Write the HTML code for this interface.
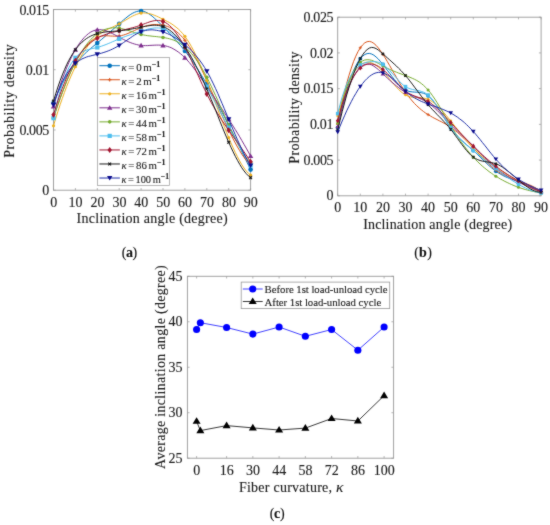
<!DOCTYPE html>
<html lang="en"><head><meta charset="utf-8"><title>Figure</title>
<style>html,body{margin:0;padding:0;background:#fff;overflow:hidden}svg{display:block}text{stroke:#1c1c1c;stroke-width:.12px}</style>
</head><body>
<svg width="550" height="525" viewBox="0 0 550 525" font-family='"Liberation Serif", "DejaVu Serif", serif'>
<defs><filter id="soft" filterUnits="userSpaceOnUse" x="0" y="0" width="550" height="525" color-interpolation-filters="sRGB"><feConvolveMatrix order="3" kernelMatrix="0.4 1 0.4 1 9 1 0.4 1 0.4" divisor="14.6" edgeMode="duplicate" preserveAlpha="false"/></filter></defs><g filter="url(#soft)">
<rect width="550" height="525" fill="#fff"/>
<rect x="53.5" y="9.5" width="197.10" height="180.70" fill="#fff" stroke="#989898" stroke-width="0.9"/><path d="M53.50 190.2v-2.2M53.50 9.5v2.2M75.40 190.2v-2.2M75.40 9.5v2.2M97.30 190.2v-2.2M97.30 9.5v2.2M119.20 190.2v-2.2M119.20 9.5v2.2M141.10 190.2v-2.2M141.10 9.5v2.2M163.00 190.2v-2.2M163.00 9.5v2.2M184.90 190.2v-2.2M184.90 9.5v2.2M206.80 190.2v-2.2M206.80 9.5v2.2M228.70 190.2v-2.2M228.70 9.5v2.2M250.60 190.2v-2.2M250.60 9.5v2.2M53.5 190.20h2.2M250.6 190.20h-2.2M53.5 129.97h2.2M250.6 129.97h-2.2M53.5 69.73h2.2M250.6 69.73h-2.2M53.5 9.50h2.2M250.6 9.50h-2.2" stroke="#989898" stroke-width="0.7" fill="none"/>
<g><polyline points="53.5,103.0 55.7,97.6 57.9,92.7 60.1,88.0 62.3,83.7 64.5,79.7 66.6,76.0 68.8,72.6 71.0,69.4 73.2,66.5 75.4,63.7 77.6,61.1 79.8,58.7 82.0,56.5 84.2,54.4 86.3,52.3 88.5,50.4 90.7,48.5 92.9,46.6 95.1,44.8 97.3,43.0 99.5,41.1 101.7,39.3 103.9,37.4 106.1,35.5 108.2,33.6 110.4,31.7 112.6,29.7 114.8,27.8 117.0,25.8 119.2,23.8 121.4,21.9 123.6,19.9 125.8,18.1 128.0,16.3 130.2,14.7 132.3,13.4 134.5,12.3 136.7,11.5 138.9,11.0 141.1,10.9 143.3,11.3 145.5,12.0 147.7,13.1 149.9,14.5 152.1,16.1 154.2,18.0 156.4,20.0 158.6,22.1 160.8,24.3 163.0,26.6 165.2,28.9 167.4,31.1 169.6,33.4 171.8,35.7 173.9,38.1 176.1,40.5 178.3,43.0 180.5,45.5 182.7,48.2 184.9,50.9 187.1,53.8 189.3,56.8 191.5,59.9 193.7,63.1 195.8,66.4 198.0,69.7 200.2,73.2 202.4,76.8 204.6,80.5 206.8,84.2 209.0,88.0 211.2,91.9 213.4,95.9 215.6,99.9 217.8,104.0 219.9,108.1 222.1,112.3 224.3,116.5 226.5,120.8 228.7,125.1 230.9,129.5 233.1,133.9 235.3,138.3 237.5,142.8 239.7,147.2 241.8,151.7 244.0,156.2 246.2,160.6 248.4,165.1 250.6,169.6" fill="none" stroke="#0072BD" stroke-width="1" stroke-linejoin="round"/><circle cx="53.50" cy="102.98" r="2.30" fill="#0072BD"/><circle cx="75.40" cy="63.71" r="2.30" fill="#0072BD"/><circle cx="97.30" cy="42.99" r="2.30" fill="#0072BD"/><circle cx="119.20" cy="23.84" r="2.30" fill="#0072BD"/><circle cx="141.10" cy="10.95" r="2.30" fill="#0072BD"/><circle cx="163.00" cy="26.61" r="2.30" fill="#0072BD"/><circle cx="184.90" cy="50.94" r="2.30" fill="#0072BD"/><circle cx="206.80" cy="84.19" r="2.30" fill="#0072BD"/><circle cx="228.70" cy="125.15" r="2.30" fill="#0072BD"/><circle cx="250.60" cy="169.60" r="2.30" fill="#0072BD"/><polyline points="53.5,117.9 55.7,111.1 57.9,104.6 60.1,98.4 62.3,92.4 64.5,86.7 66.6,81.3 68.8,76.1 71.0,71.3 73.2,66.8 75.4,62.5 77.6,58.6 79.8,54.9 82.0,51.6 84.2,48.5 86.3,45.8 88.5,43.5 90.7,41.4 92.9,39.7 95.1,38.3 97.3,37.2 99.5,36.5 101.7,36.0 103.9,35.8 106.1,35.8 108.2,35.8 110.4,36.0 112.6,36.1 114.8,36.2 117.0,36.2 119.2,36.0 121.4,35.6 123.6,35.0 125.8,34.3 128.0,33.4 130.2,32.5 132.3,31.5 134.5,30.5 136.7,29.5 138.9,28.5 141.1,27.6 143.3,26.8 145.5,26.1 147.7,25.5 149.9,25.1 152.1,24.7 154.2,24.5 156.4,24.5 158.6,24.6 160.8,24.8 163.0,25.2 165.2,25.7 167.4,26.4 169.6,27.3 171.8,28.4 173.9,29.7 176.1,31.3 178.3,33.1 180.5,35.2 182.7,37.6 184.9,40.2 187.1,43.2 189.3,46.5 191.5,50.0 193.7,53.8 195.8,57.8 198.0,62.1 200.2,66.5 202.4,71.0 204.6,75.8 206.8,80.6 209.0,85.5 211.2,90.5 213.4,95.5 215.6,100.6 217.8,105.6 219.9,110.6 222.1,115.6 224.3,120.5 226.5,125.3 228.7,130.0 230.9,134.5 233.1,138.9 235.3,143.0 237.5,147.0 239.7,150.7 241.8,154.2 244.0,157.3 246.2,160.2 248.4,162.7 250.6,164.9" fill="none" stroke="#D95319" stroke-width="1" stroke-linejoin="round"/><path d="M51.70 117.92H55.30M53.50 116.12V119.72" stroke="#D95319" stroke-width="1" fill="none"/><path d="M73.60 62.51H77.20M75.40 60.71V64.31" stroke="#D95319" stroke-width="1" fill="none"/><path d="M95.50 37.21H99.10M97.30 35.41V39.01" stroke="#D95319" stroke-width="1" fill="none"/><path d="M117.40 36.00H121.00M119.20 34.20V37.80" stroke="#D95319" stroke-width="1" fill="none"/><path d="M139.30 27.57H142.90M141.10 25.77V29.37" stroke="#D95319" stroke-width="1" fill="none"/><path d="M161.20 25.16H164.80M163.00 23.36V26.96" stroke="#D95319" stroke-width="1" fill="none"/><path d="M183.10 40.22H186.70M184.90 38.42V42.02" stroke="#D95319" stroke-width="1" fill="none"/><path d="M205.00 80.58H208.60M206.80 78.78V82.38" stroke="#D95319" stroke-width="1" fill="none"/><path d="M226.90 129.97H230.50M228.70 128.17V131.77" stroke="#D95319" stroke-width="1" fill="none"/><path d="M248.80 164.90H252.40M250.60 163.10V166.70" stroke="#D95319" stroke-width="1" fill="none"/><polyline points="53.5,125.9 55.7,118.5 57.9,111.5 60.1,104.8 62.3,98.5 64.5,92.4 66.6,86.7 68.8,81.3 71.0,76.1 73.2,71.3 75.4,66.7 77.6,62.5 79.8,58.5 82.0,54.8 84.2,51.3 86.3,48.1 88.5,45.2 90.7,42.5 92.9,40.1 95.1,37.9 97.3,36.0 99.5,34.3 101.7,32.8 103.9,31.4 106.1,30.2 108.2,29.1 110.4,28.1 112.6,27.1 114.8,26.0 117.0,25.0 119.2,23.8 121.4,22.6 123.6,21.3 125.8,20.0 128.0,18.7 130.2,17.4 132.3,16.2 134.5,15.2 136.7,14.3 138.9,13.6 141.1,13.1 143.3,12.9 145.5,13.0 147.7,13.3 149.9,13.8 152.1,14.4 154.2,15.2 156.4,16.1 158.6,17.1 160.8,18.2 163.0,19.3 165.2,20.4 167.4,21.5 169.6,22.7 171.8,24.0 173.9,25.5 176.1,27.2 178.3,29.0 180.5,31.2 182.7,33.6 184.9,36.4 187.1,39.5 189.3,42.9 191.5,46.7 193.7,50.8 195.8,55.2 198.0,59.8 200.2,64.7 202.4,69.7 204.6,75.0 206.8,80.5 209.0,86.1 211.2,91.8 213.4,97.6 215.6,103.4 217.8,109.3 219.9,115.1 222.1,120.9 224.3,126.6 226.5,132.2 228.7,137.6 230.9,142.8 233.1,147.7 235.3,152.5 237.5,156.9 239.7,161.0 241.8,164.7 244.0,168.0 246.2,170.9 248.4,173.3 250.6,175.1" fill="none" stroke="#EDB120" stroke-width="1" stroke-linejoin="round"/><circle cx="53.50" cy="125.87" r="1.60" fill="#EDB120"/><circle cx="75.40" cy="66.72" r="1.60" fill="#EDB120"/><circle cx="97.30" cy="36.00" r="1.60" fill="#EDB120"/><circle cx="119.20" cy="23.84" r="1.60" fill="#EDB120"/><circle cx="141.10" cy="13.11" r="1.60" fill="#EDB120"/><circle cx="163.00" cy="19.26" r="1.60" fill="#EDB120"/><circle cx="184.90" cy="36.36" r="1.60" fill="#EDB120"/><circle cx="206.80" cy="80.45" r="1.60" fill="#EDB120"/><circle cx="228.70" cy="137.56" r="1.60" fill="#EDB120"/><circle cx="250.60" cy="175.14" r="1.60" fill="#EDB120"/><polyline points="53.5,106.5 55.7,99.0 57.9,92.0 60.1,85.4 62.3,79.1 64.5,73.3 66.6,67.8 68.8,62.7 71.0,58.0 73.2,53.7 75.4,49.7 77.6,46.1 79.8,42.9 82.0,40.1 84.2,37.5 86.3,35.4 88.5,33.6 90.7,32.1 92.9,31.0 95.1,30.2 97.3,29.7 99.5,29.6 101.7,29.8 103.9,30.2 106.1,30.8 108.2,31.6 110.4,32.6 112.6,33.7 114.8,34.8 117.0,36.0 119.2,37.2 121.4,38.4 123.6,39.5 125.8,40.6 128.0,41.6 130.2,42.5 132.3,43.3 134.5,44.0 136.7,44.6 138.9,45.1 141.1,45.4 143.3,45.6 145.5,45.6 147.7,45.6 149.9,45.4 152.1,45.3 154.2,45.2 156.4,45.1 158.6,45.1 160.8,45.2 163.0,45.4 165.2,45.8 167.4,46.4 169.6,47.1 171.8,48.0 173.9,49.2 176.1,50.5 178.3,52.0 180.5,53.7 182.7,55.6 184.9,57.7 187.1,60.0 189.3,62.5 191.5,65.2 193.7,68.0 195.8,70.9 198.0,73.9 200.2,77.0 202.4,80.2 204.6,83.4 206.8,86.6 209.0,89.8 211.2,93.0 213.4,96.2 215.6,99.5 217.8,102.7 219.9,106.0 222.1,109.2 224.3,112.5 226.5,115.9 228.7,119.2 230.9,122.7 233.1,126.1 235.3,129.6 237.5,133.2 239.7,136.8 241.8,140.5 244.0,144.3 246.2,148.1 248.4,152.0 250.6,156.0" fill="none" stroke="#7E2F8E" stroke-width="1" stroke-linejoin="round"/><path d="M53.50 103.88 L56.20 108.48 L50.80 108.48Z" fill="#7E2F8E"/><path d="M75.40 47.14 L78.10 51.74 L72.70 51.74Z" fill="#7E2F8E"/><path d="M97.30 27.14 L100.00 31.74 L94.60 31.74Z" fill="#7E2F8E"/><path d="M119.20 34.61 L121.90 39.21 L116.50 39.21Z" fill="#7E2F8E"/><path d="M141.10 42.80 L143.80 47.40 L138.40 47.40Z" fill="#7E2F8E"/><path d="M163.00 42.80 L165.70 47.40 L160.30 47.40Z" fill="#7E2F8E"/><path d="M184.90 55.09 L187.60 59.69 L182.20 59.69Z" fill="#7E2F8E"/><path d="M206.80 84.00 L209.50 88.60 L204.10 88.60Z" fill="#7E2F8E"/><path d="M228.70 116.65 L231.40 121.25 L226.00 121.25Z" fill="#7E2F8E"/><path d="M250.60 153.39 L253.30 157.99 L247.90 157.99Z" fill="#7E2F8E"/><polyline points="53.5,118.2 55.7,111.3 57.9,104.8 60.1,98.6 62.3,92.6 64.5,86.9 66.6,81.5 68.8,76.3 71.0,71.4 73.2,66.8 75.4,62.5 77.6,58.4 79.8,54.6 82.0,51.1 84.2,47.8 86.3,44.8 88.5,42.1 90.7,39.6 92.9,37.3 95.1,35.3 97.3,33.6 99.5,32.1 101.7,30.9 103.9,29.8 106.1,29.1 108.2,28.5 110.4,28.1 112.6,27.8 114.8,27.8 117.0,27.9 119.2,28.2 121.4,28.6 123.6,29.1 125.8,29.7 128.0,30.3 130.2,31.1 132.3,31.8 134.5,32.5 136.7,33.2 138.9,33.9 141.1,34.4 143.3,34.9 145.5,35.3 147.7,35.7 149.9,35.9 152.1,36.2 154.2,36.4 156.4,36.6 158.6,36.9 160.8,37.1 163.0,37.4 165.2,37.8 167.4,38.3 169.6,38.8 171.8,39.5 173.9,40.2 176.1,41.2 178.3,42.3 180.5,43.6 182.7,45.1 184.9,46.8 187.1,48.8 189.3,51.0 191.5,53.5 193.7,56.2 195.8,59.2 198.0,62.3 200.2,65.7 202.4,69.4 204.6,73.2 206.8,77.3 209.0,81.6 211.2,86.1 213.4,90.8 215.6,95.6 217.8,100.4 219.9,105.4 222.1,110.3 224.3,115.3 226.5,120.2 228.7,125.0 230.9,129.8 233.1,134.4 235.3,138.8 237.5,143.1 239.7,147.1 241.8,150.8 244.0,154.3 246.2,157.4 248.4,160.1 250.6,162.5" fill="none" stroke="#77AC30" stroke-width="1" stroke-linejoin="round"/><circle cx="53.50" cy="118.16" r="1.80" fill="#77AC30"/><circle cx="75.40" cy="62.51" r="1.80" fill="#77AC30"/><circle cx="97.30" cy="33.59" r="1.80" fill="#77AC30"/><circle cx="119.20" cy="28.17" r="1.80" fill="#77AC30"/><circle cx="141.10" cy="34.44" r="1.80" fill="#77AC30"/><circle cx="163.00" cy="37.45" r="1.80" fill="#77AC30"/><circle cx="184.90" cy="46.84" r="1.80" fill="#77AC30"/><circle cx="206.80" cy="77.32" r="1.80" fill="#77AC30"/><circle cx="228.70" cy="125.03" r="1.80" fill="#77AC30"/><circle cx="250.60" cy="162.49" r="1.80" fill="#77AC30"/><polyline points="53.5,118.2 55.7,108.1 57.9,99.2 60.1,91.2 62.3,84.1 64.5,77.9 66.6,72.5 68.8,67.9 71.0,63.9 73.2,60.6 75.4,57.8 77.6,55.5 79.8,53.7 82.0,52.2 84.2,51.1 86.3,50.2 88.5,49.5 90.7,48.9 92.9,48.4 95.1,48.0 97.3,47.4 99.5,46.8 101.7,46.1 103.9,45.3 106.1,44.5 108.2,43.6 110.4,42.7 112.6,41.7 114.8,40.8 117.0,39.8 119.2,38.9 121.4,38.0 123.6,37.2 125.8,36.3 128.0,35.5 130.2,34.8 132.3,34.0 134.5,33.3 136.7,32.6 138.9,31.9 141.1,31.2 143.3,30.5 145.5,29.8 147.7,29.2 149.9,28.7 152.1,28.3 154.2,28.0 156.4,27.9 158.6,28.0 160.8,28.2 163.0,28.8 165.2,29.6 167.4,30.6 169.6,31.9 171.8,33.5 173.9,35.3 176.1,37.4 178.3,39.7 180.5,42.3 182.7,45.0 184.9,48.0 187.1,51.3 189.3,54.7 191.5,58.3 193.7,62.1 195.8,66.0 198.0,70.0 200.2,74.1 202.4,78.2 204.6,82.4 206.8,86.6 209.0,90.8 211.2,94.9 213.4,99.1 215.6,103.2 217.8,107.3 219.9,111.4 222.1,115.5 224.3,119.6 226.5,123.6 228.7,127.6 230.9,131.5 233.1,135.4 235.3,139.3 237.5,143.2 239.7,147.0 241.8,150.8 244.0,154.5 246.2,158.2 248.4,161.9 250.6,165.5" fill="none" stroke="#4DBEEE" stroke-width="1" stroke-linejoin="round"/><rect x="51.40" y="116.06" width="4.20" height="4.20" fill="#4DBEEE"/><rect x="73.30" y="55.71" width="4.20" height="4.20" fill="#4DBEEE"/><rect x="95.20" y="45.35" width="4.20" height="4.20" fill="#4DBEEE"/><rect x="117.10" y="36.79" width="4.20" height="4.20" fill="#4DBEEE"/><rect x="139.00" y="29.08" width="4.20" height="4.20" fill="#4DBEEE"/><rect x="160.90" y="26.67" width="4.20" height="4.20" fill="#4DBEEE"/><rect x="182.80" y="45.95" width="4.20" height="4.20" fill="#4DBEEE"/><rect x="204.70" y="84.50" width="4.20" height="4.20" fill="#4DBEEE"/><rect x="226.60" y="125.46" width="4.20" height="4.20" fill="#4DBEEE"/><rect x="248.50" y="163.40" width="4.20" height="4.20" fill="#4DBEEE"/><polyline points="53.5,114.8 55.7,107.5 57.9,100.6 60.1,94.2 62.3,88.3 64.5,82.8 66.6,77.6 68.8,72.8 71.0,68.5 73.2,64.4 75.4,60.7 77.6,57.3 79.8,54.2 82.0,51.4 84.2,48.8 86.3,46.5 88.5,44.5 90.7,42.6 92.9,41.0 95.1,39.5 97.3,38.2 99.5,37.0 101.7,36.0 103.9,35.1 106.1,34.3 108.2,33.6 110.4,32.9 112.6,32.3 114.8,31.8 117.0,31.3 119.2,30.8 121.4,30.3 123.6,29.9 125.8,29.4 128.0,28.9 130.2,28.3 132.3,27.8 134.5,27.2 136.7,26.5 138.9,25.8 141.1,25.0 143.3,24.2 145.5,23.4 147.7,22.6 149.9,21.8 152.1,21.2 154.2,20.7 156.4,20.5 158.6,20.5 160.8,20.8 163.0,21.4 165.2,22.4 167.4,23.8 169.6,25.6 171.8,27.7 173.9,30.2 176.1,33.0 178.3,36.1 180.5,39.5 182.7,43.2 184.9,47.2 187.1,51.5 189.3,55.9 191.5,60.6 193.7,65.4 195.8,70.2 198.0,75.1 200.2,80.0 202.4,84.8 204.6,89.4 206.8,93.9 209.0,98.3 211.2,102.4 213.4,106.3 215.6,110.1 217.8,113.7 219.9,117.2 222.1,120.6 224.3,123.9 226.5,127.1 228.7,130.2 230.9,133.3 233.1,136.4 235.3,139.4 237.5,142.5 239.7,145.5 241.8,148.6 244.0,151.8 246.2,155.0 248.4,158.4 250.6,161.8" fill="none" stroke="#A2142F" stroke-width="1" stroke-linejoin="round"/><path d="M53.50 111.79 L55.70 114.79 L53.50 117.79 L51.30 114.79Z" fill="#A2142F"/><path d="M75.40 57.70 L77.60 60.70 L75.40 63.70 L73.20 60.70Z" fill="#A2142F"/><path d="M97.30 35.17 L99.50 38.17 L97.30 41.17 L95.10 38.17Z" fill="#A2142F"/><path d="M119.20 27.82 L121.40 30.82 L119.20 33.82 L117.00 30.82Z" fill="#A2142F"/><path d="M141.10 22.04 L143.30 25.04 L141.10 28.04 L138.90 25.04Z" fill="#A2142F"/><path d="M163.00 18.43 L165.20 21.43 L163.00 24.43 L160.80 21.43Z" fill="#A2142F"/><path d="M184.90 44.21 L187.10 47.21 L184.90 50.21 L182.70 47.21Z" fill="#A2142F"/><path d="M206.80 90.95 L209.00 93.95 L206.80 96.95 L204.60 93.95Z" fill="#A2142F"/><path d="M228.70 127.21 L230.90 130.21 L228.70 133.21 L226.50 130.21Z" fill="#A2142F"/><path d="M250.60 158.77 L252.80 161.77 L250.60 164.77 L248.40 161.77Z" fill="#A2142F"/><polyline points="53.5,101.2 55.7,93.8 57.9,87.0 60.1,80.7 62.3,74.9 64.5,69.6 66.6,64.8 68.8,60.4 71.0,56.5 73.2,52.9 75.4,49.7 77.6,46.9 79.8,44.4 82.0,42.2 84.2,40.3 86.3,38.7 88.5,37.3 90.7,36.1 92.9,35.1 95.1,34.3 97.3,33.6 99.5,33.0 101.7,32.6 103.9,32.2 106.1,31.9 108.2,31.7 110.4,31.5 112.6,31.3 114.8,31.2 117.0,31.0 119.2,30.8 121.4,30.6 123.6,30.3 125.8,30.0 128.0,29.7 130.2,29.3 132.3,28.9 134.5,28.5 136.7,28.1 138.9,27.7 141.1,27.2 143.3,26.7 145.5,26.3 147.7,25.9 149.9,25.6 152.1,25.3 154.2,25.2 156.4,25.3 158.6,25.5 160.8,25.9 163.0,26.6 165.2,27.5 167.4,28.7 169.6,30.1 171.8,31.8 173.9,33.7 176.1,35.9 178.3,38.3 180.5,40.9 182.7,43.8 184.9,46.8 187.1,50.2 189.3,53.7 191.5,57.4 193.7,61.4 195.8,65.6 198.0,69.9 200.2,74.4 202.4,79.1 204.6,84.0 206.8,89.0 209.0,94.2 211.2,99.5 213.4,104.9 215.6,110.3 217.8,115.8 219.9,121.2 222.1,126.6 224.3,132.0 226.5,137.2 228.7,142.3 230.9,147.1 233.1,151.8 235.3,156.3 237.5,160.4 239.7,164.3 241.8,167.8 244.0,170.9 246.2,173.6 248.4,175.9 250.6,177.7" fill="none" stroke="#1a1a1a" stroke-width="1" stroke-linejoin="round"/><path d="M52.10 99.78L54.90 102.58M52.10 102.58L54.90 99.78" stroke="#1a1a1a" stroke-width="1.2" fill="none"/><path d="M74.00 48.34L76.80 51.14M74.00 51.14L76.80 48.34" stroke="#1a1a1a" stroke-width="1.2" fill="none"/><path d="M95.90 32.19L98.70 34.99M95.90 34.99L98.70 32.19" stroke="#1a1a1a" stroke-width="1.2" fill="none"/><path d="M117.80 29.42L120.60 32.22M117.80 32.22L120.60 29.42" stroke="#1a1a1a" stroke-width="1.2" fill="none"/><path d="M139.70 25.81L142.50 28.61M139.70 28.61L142.50 25.81" stroke="#1a1a1a" stroke-width="1.2" fill="none"/><path d="M161.60 25.21L164.40 28.01M161.60 28.01L164.40 25.21" stroke="#1a1a1a" stroke-width="1.2" fill="none"/><path d="M183.50 45.44L186.30 48.24M183.50 48.24L186.30 45.44" stroke="#1a1a1a" stroke-width="1.2" fill="none"/><path d="M205.40 87.61L208.20 90.41M205.40 90.41L208.20 87.61" stroke="#1a1a1a" stroke-width="1.2" fill="none"/><path d="M227.30 140.85L230.10 143.65M227.30 143.65L230.10 140.85" stroke="#1a1a1a" stroke-width="1.2" fill="none"/><path d="M249.20 176.27L252.00 179.07M249.20 179.07L252.00 176.27" stroke="#1a1a1a" stroke-width="1.2" fill="none"/><polyline points="53.5,104.8 55.7,98.1 57.9,92.1 60.1,86.7 62.3,81.9 64.5,77.7 66.6,73.9 68.8,70.7 71.0,67.8 73.2,65.4 75.4,63.3 77.6,61.6 79.8,60.2 82.0,58.9 84.2,58.0 86.3,57.1 88.5,56.4 90.7,55.9 92.9,55.3 95.1,54.8 97.3,54.3 99.5,53.7 101.7,53.1 103.9,52.4 106.1,51.7 108.2,50.9 110.4,50.0 112.6,49.0 114.8,47.9 117.0,46.7 119.2,45.4 121.4,44.0 123.6,42.5 125.8,41.0 128.0,39.5 130.2,38.0 132.3,36.5 134.5,35.1 136.7,33.9 138.9,32.7 141.1,31.8 143.3,31.0 145.5,30.5 147.7,30.1 149.9,29.9 152.1,29.8 154.2,30.0 156.4,30.3 158.6,30.7 160.8,31.2 163.0,31.9 165.2,32.7 167.4,33.6 169.6,34.6 171.8,35.8 173.9,37.0 176.1,38.4 178.3,39.8 180.5,41.4 182.7,43.0 184.9,44.8 187.1,46.7 189.3,48.6 191.5,50.7 193.7,53.0 195.8,55.5 198.0,58.1 200.2,61.0 202.4,64.1 204.6,67.5 206.8,71.2 209.0,75.1 211.2,79.4 213.4,83.9 215.6,88.6 217.8,93.4 219.9,98.4 222.1,103.5 224.3,108.7 226.5,114.0 228.7,119.2 230.9,124.5 233.1,129.7 235.3,134.8 237.5,139.8 239.7,144.6 241.8,149.3 244.0,153.7 246.2,158.0 248.4,161.9 250.6,165.5" fill="none" stroke="#1f2fa8" stroke-width="1" stroke-linejoin="round"/><path d="M53.50 107.39 L56.20 102.79 L50.80 102.79Z" fill="#0b0b8c"/><path d="M75.40 65.95 L78.10 61.35 L72.70 61.35Z" fill="#0b0b8c"/><path d="M97.30 56.91 L100.00 52.31 L94.60 52.31Z" fill="#0b0b8c"/><path d="M119.20 48.00 L121.90 43.40 L116.50 43.40Z" fill="#0b0b8c"/><path d="M141.10 34.39 L143.80 29.79 L138.40 29.79Z" fill="#0b0b8c"/><path d="M163.00 34.51 L165.70 29.91 L160.30 29.91Z" fill="#0b0b8c"/><path d="M184.90 47.40 L187.60 42.80 L182.20 42.80Z" fill="#0b0b8c"/><path d="M206.80 73.78 L209.50 69.18 L204.10 69.18Z" fill="#0b0b8c"/><path d="M228.70 121.85 L231.40 117.25 L226.00 117.25Z" fill="#0b0b8c"/><path d="M250.60 168.10 L253.30 163.50 L247.90 163.50Z" fill="#0b0b8c"/></g>
<text x="53.70" y="207.20" font-size="14.0" text-anchor="middle" fill="#1c1c1c" >0</text>
<text x="75.60" y="207.20" font-size="14.0" text-anchor="middle" fill="#1c1c1c" >10</text>
<text x="97.50" y="207.20" font-size="14.0" text-anchor="middle" fill="#1c1c1c" >20</text>
<text x="119.40" y="207.20" font-size="14.0" text-anchor="middle" fill="#1c1c1c" >30</text>
<text x="141.30" y="207.20" font-size="14.0" text-anchor="middle" fill="#1c1c1c" >40</text>
<text x="163.20" y="207.20" font-size="14.0" text-anchor="middle" fill="#1c1c1c" >50</text>
<text x="185.10" y="207.20" font-size="14.0" text-anchor="middle" fill="#1c1c1c" >60</text>
<text x="207.00" y="207.20" font-size="14.0" text-anchor="middle" fill="#1c1c1c" >70</text>
<text x="228.90" y="207.20" font-size="14.0" text-anchor="middle" fill="#1c1c1c" >80</text>
<text x="250.80" y="207.20" font-size="14.0" text-anchor="middle" fill="#1c1c1c" >90</text>
<text x="49.30" y="195.20" font-size="14.0" text-anchor="end" fill="#1c1c1c" >0</text>
<text x="49.30" y="134.97" font-size="14.0" text-anchor="end" fill="#1c1c1c"  textLength="29.9" lengthAdjust="spacing">0.005</text>
<text x="49.30" y="74.73" font-size="14.0" text-anchor="end" fill="#1c1c1c"  textLength="23.6" lengthAdjust="spacing">0.01</text>
<text x="49.30" y="14.50" font-size="14.0" text-anchor="end" fill="#1c1c1c"  textLength="29.9" lengthAdjust="spacing">0.015</text>
<text x="152.10" y="223.30" font-size="14.0" text-anchor="middle" fill="#1c1c1c"  textLength="151" lengthAdjust="spacing">Inclination angle (degree)</text>
<text x="0.00" y="0.00" font-size="14.0" text-anchor="middle" fill="#1c1c1c" transform="translate(13.9 101) rotate(-90)" textLength="113.4" lengthAdjust="spacing">Probability density</text>
<rect x="97.4" y="57.4" width="72.1" height="128.2" fill="#fff" stroke="#989898" stroke-width="0.7"/>
<path d="M99.4 65.70H119.9" stroke="#0072BD" stroke-width="1"/>
<circle cx="109.70" cy="65.70" r="2.30" fill="#0072BD"/>
<text x="121.4" y="70.60" font-size="10.8" word-spacing="-1" textLength="39.0" lengthAdjust="spacingAndGlyphs" fill="#1c1c1c"><tspan font-style="italic">κ</tspan> = 0 m<tspan dy="-4" font-size="8" font-weight="bold">−1</tspan></text>
<path d="M99.4 79.74H119.9" stroke="#D95319" stroke-width="1"/>
<path d="M107.90 79.74H111.50M109.70 77.94V81.54" stroke="#D95319" stroke-width="1" fill="none"/>
<text x="121.4" y="84.64" font-size="10.8" word-spacing="-1" textLength="39.0" lengthAdjust="spacingAndGlyphs" fill="#1c1c1c"><tspan font-style="italic">κ</tspan> = 2 m<tspan dy="-4" font-size="8" font-weight="bold">−1</tspan></text>
<path d="M99.4 93.78H119.9" stroke="#EDB120" stroke-width="1"/>
<circle cx="109.70" cy="93.78" r="1.60" fill="#EDB120"/>
<text x="121.4" y="98.68" font-size="10.8" word-spacing="-1" textLength="44.2" lengthAdjust="spacingAndGlyphs" fill="#1c1c1c"><tspan font-style="italic">κ</tspan> = 16 m<tspan dy="-4" font-size="8" font-weight="bold">−1</tspan></text>
<path d="M99.4 107.82H119.9" stroke="#7E2F8E" stroke-width="1"/>
<path d="M109.70 105.22 L112.40 109.82 L107.00 109.82Z" fill="#7E2F8E"/>
<text x="121.4" y="112.72" font-size="10.8" word-spacing="-1" textLength="44.2" lengthAdjust="spacingAndGlyphs" fill="#1c1c1c"><tspan font-style="italic">κ</tspan> = 30 m<tspan dy="-4" font-size="8" font-weight="bold">−1</tspan></text>
<path d="M99.4 121.86H119.9" stroke="#77AC30" stroke-width="1"/>
<circle cx="109.70" cy="121.86" r="1.80" fill="#77AC30"/>
<text x="121.4" y="126.76" font-size="10.8" word-spacing="-1" textLength="44.2" lengthAdjust="spacingAndGlyphs" fill="#1c1c1c"><tspan font-style="italic">κ</tspan> = 44 m<tspan dy="-4" font-size="8" font-weight="bold">−1</tspan></text>
<path d="M99.4 135.90H119.9" stroke="#4DBEEE" stroke-width="1"/>
<rect x="107.60" y="133.80" width="4.20" height="4.20" fill="#4DBEEE"/>
<text x="121.4" y="140.80" font-size="10.8" word-spacing="-1" textLength="44.2" lengthAdjust="spacingAndGlyphs" fill="#1c1c1c"><tspan font-style="italic">κ</tspan> = 58 m<tspan dy="-4" font-size="8" font-weight="bold">−1</tspan></text>
<path d="M99.4 149.94H119.9" stroke="#A2142F" stroke-width="1"/>
<path d="M109.70 146.94 L111.90 149.94 L109.70 152.94 L107.50 149.94Z" fill="#A2142F"/>
<text x="121.4" y="154.84" font-size="10.8" word-spacing="-1" textLength="44.2" lengthAdjust="spacingAndGlyphs" fill="#1c1c1c"><tspan font-style="italic">κ</tspan> = 72 m<tspan dy="-4" font-size="8" font-weight="bold">−1</tspan></text>
<path d="M99.4 163.98H119.9" stroke="#1a1a1a" stroke-width="1"/>
<path d="M108.30 162.58L111.10 165.38M108.30 165.38L111.10 162.58" stroke="#1a1a1a" stroke-width="1.2" fill="none"/>
<text x="121.4" y="168.88" font-size="10.8" word-spacing="-1" textLength="44.2" lengthAdjust="spacingAndGlyphs" fill="#1c1c1c"><tspan font-style="italic">κ</tspan> = 86 m<tspan dy="-4" font-size="8" font-weight="bold">−1</tspan></text>
<path d="M99.4 178.02H119.9" stroke="#1f2fa8" stroke-width="1"/>
<path d="M109.70 180.62 L112.40 176.02 L107.00 176.02Z" fill="#0b0b8c"/>
<text x="121.4" y="182.92" font-size="10.8" word-spacing="-1" textLength="47.6" lengthAdjust="spacingAndGlyphs" fill="#1c1c1c"><tspan font-style="italic">κ</tspan> = 100 m<tspan dy="-4" font-size="8" font-weight="bold">−1</tspan></text>
<text x="129.50" y="256.80" font-size="14" text-anchor="middle" fill="#111"  textLength="15.5" lengthAdjust="spacing">(<tspan font-weight="bold">a</tspan>)</text>
<rect x="337.7" y="17.2" width="203.40" height="178.60" fill="#fff" stroke="#989898" stroke-width="0.9"/><path d="M337.70 195.8v-2.2M337.70 17.2v2.2M360.30 195.8v-2.2M360.30 17.2v2.2M382.90 195.8v-2.2M382.90 17.2v2.2M405.50 195.8v-2.2M405.50 17.2v2.2M428.10 195.8v-2.2M428.10 17.2v2.2M450.70 195.8v-2.2M450.70 17.2v2.2M473.30 195.8v-2.2M473.30 17.2v2.2M495.90 195.8v-2.2M495.90 17.2v2.2M518.50 195.8v-2.2M518.50 17.2v2.2M541.10 195.8v-2.2M541.10 17.2v2.2M337.7 195.80h2.2M541.1 195.80h-2.2M337.7 160.08h2.2M541.1 160.08h-2.2M337.7 124.36h2.2M541.1 124.36h-2.2M337.7 88.64h2.2M541.1 88.64h-2.2M337.7 52.92h2.2M541.1 52.92h-2.2M337.7 17.20h2.2M541.1 17.20h-2.2" stroke="#989898" stroke-width="0.7" fill="none"/>
<g><polyline points="337.7,127.6 340.0,117.0 342.2,107.2 344.5,98.3 346.7,90.2 349.0,82.9 351.3,76.4 353.5,70.8 355.8,65.9 358.0,61.9 360.3,58.6 362.6,56.2 364.8,54.5 367.1,53.6 369.3,53.4 371.6,54.0 373.9,55.2 376.1,57.0 378.4,59.1 380.6,61.7 382.9,64.4 385.2,67.3 387.4,70.4 389.7,73.4 391.9,76.4 394.2,79.3 396.5,82.1 398.7,84.6 401.0,86.8 403.2,88.6 405.5,90.1 407.8,91.0 410.0,91.6 412.3,91.9 414.5,92.1 416.8,92.2 419.1,92.4 421.3,92.7 423.6,93.3 425.8,94.2 428.1,95.7 430.4,97.7 432.6,100.3 434.9,103.3 437.1,106.5 439.4,110.1 441.7,113.7 443.9,117.4 446.2,121.1 448.4,124.6 450.7,127.9 453.0,130.9 455.2,133.7 457.5,136.2 459.7,138.5 462.0,140.6 464.3,142.7 466.5,144.7 468.8,146.6 471.0,148.6 473.3,150.6 475.6,152.7 477.8,154.8 480.1,157.0 482.3,159.2 484.6,161.4 486.9,163.6 489.1,165.7 491.4,167.7 493.6,169.5 495.9,171.2 498.2,172.8 500.4,174.1 502.7,175.4 504.9,176.5 507.2,177.5 509.5,178.4 511.7,179.2 514.0,180.0 516.2,180.8 518.5,181.5 520.8,182.3 523.0,183.0 525.3,183.8 527.5,184.7 529.8,185.7 532.1,186.7 534.3,187.9 536.6,189.2 538.8,190.6 541.1,192.2" fill="none" stroke="#0072BD" stroke-width="1" stroke-linejoin="round"/><circle cx="337.70" cy="127.57" r="1.95" fill="#0072BD"/><circle cx="360.30" cy="58.64" r="1.95" fill="#0072BD"/><circle cx="382.90" cy="64.42" r="1.95" fill="#0072BD"/><circle cx="405.50" cy="90.07" r="1.95" fill="#0072BD"/><circle cx="428.10" cy="95.71" r="1.95" fill="#0072BD"/><circle cx="450.70" cy="127.93" r="1.95" fill="#0072BD"/><circle cx="473.30" cy="150.58" r="1.95" fill="#0072BD"/><circle cx="495.90" cy="171.22" r="1.95" fill="#0072BD"/><circle cx="518.50" cy="181.51" r="1.95" fill="#0072BD"/><circle cx="541.10" cy="192.23" r="1.95" fill="#0072BD"/><polyline points="337.7,124.4 340.0,112.9 342.2,102.2 344.5,92.4 346.7,83.4 349.0,75.3 351.3,68.1 353.5,61.7 355.8,56.2 358.0,51.6 360.3,47.8 362.6,44.9 364.8,42.8 367.1,41.7 369.3,41.4 371.6,42.0 373.9,43.4 376.1,45.4 378.4,48.0 380.6,51.0 382.9,54.3 385.2,57.9 387.4,61.7 389.7,65.6 391.9,69.5 394.2,73.5 396.5,77.5 398.7,81.4 401.0,85.2 403.2,88.8 405.5,92.2 407.8,95.4 410.0,98.3 412.3,101.0 414.5,103.5 416.8,105.8 419.1,107.9 421.3,109.8 423.6,111.6 425.8,113.2 428.1,114.6 430.4,116.0 432.6,117.3 434.9,118.5 437.1,119.6 439.4,120.8 441.7,121.9 443.9,123.1 446.2,124.4 448.4,125.7 450.7,127.2 453.0,128.8 455.2,130.6 457.5,132.4 459.7,134.4 462.0,136.5 464.3,138.6 466.5,140.9 468.8,143.2 471.0,145.5 473.3,147.9 475.6,150.4 477.8,152.8 480.1,155.2 482.3,157.6 484.6,159.9 486.9,162.2 489.1,164.4 491.4,166.4 493.6,168.3 495.9,170.1 498.2,171.7 500.4,173.1 502.7,174.4 504.9,175.5 507.2,176.6 509.5,177.5 511.7,178.4 514.0,179.2 516.2,180.0 518.5,180.8 520.8,181.6 523.0,182.4 525.3,183.2 527.5,184.1 529.8,185.0 532.1,186.1 534.3,187.2 536.6,188.5 538.8,189.9 541.1,191.5" fill="none" stroke="#D95319" stroke-width="1" stroke-linejoin="round"/><path d="M336.17 124.36H339.23M337.70 122.83V125.89" stroke="#D95319" stroke-width="1" fill="none"/><path d="M358.77 47.78H361.83M360.30 46.25V49.31" stroke="#D95319" stroke-width="1" fill="none"/><path d="M381.37 54.35H384.43M382.90 52.82V55.88" stroke="#D95319" stroke-width="1" fill="none"/><path d="M403.97 92.21H407.03M405.50 90.68V93.74" stroke="#D95319" stroke-width="1" fill="none"/><path d="M426.57 114.64H429.63M428.10 113.11V116.17" stroke="#D95319" stroke-width="1" fill="none"/><path d="M449.17 127.22H452.23M450.70 125.69V128.75" stroke="#D95319" stroke-width="1" fill="none"/><path d="M471.77 147.94H474.83M473.30 146.41V149.47" stroke="#D95319" stroke-width="1" fill="none"/><path d="M494.37 170.08H497.43M495.90 168.55V171.61" stroke="#D95319" stroke-width="1" fill="none"/><path d="M516.97 180.80H520.03M518.50 179.27V182.33" stroke="#D95319" stroke-width="1" fill="none"/><path d="M539.57 191.51H542.63M541.10 189.98V193.04" stroke="#D95319" stroke-width="1" fill="none"/><polyline points="337.7,116.0 340.0,107.7 342.2,100.1 344.5,93.3 346.7,87.2 349.0,81.9 351.3,77.2 353.5,73.2 355.8,69.9 358.0,67.2 360.3,65.1 362.6,63.6 364.8,62.6 367.1,62.2 369.3,62.3 371.6,62.9 373.9,64.0 376.1,65.4 378.4,67.1 380.6,69.2 382.9,71.5 385.2,74.0 387.4,76.6 389.7,79.3 391.9,82.0 394.2,84.7 396.5,87.2 398.7,89.6 401.0,91.7 403.2,93.5 405.5,95.0 407.8,96.1 410.0,96.8 412.3,97.2 414.5,97.5 416.8,97.6 419.1,97.7 421.3,97.8 423.6,98.1 425.8,98.6 428.1,99.4 430.4,100.5 432.6,101.9 434.9,103.6 437.1,105.6 439.4,107.8 441.7,110.2 443.9,112.7 446.2,115.4 448.4,118.1 450.7,120.9 453.0,123.8 455.2,126.6 457.5,129.4 459.7,132.2 462.0,135.0 464.3,137.7 466.5,140.4 468.8,143.0 471.0,145.5 473.3,147.9 475.6,150.2 477.8,152.4 480.1,154.6 482.3,156.6 484.6,158.5 486.9,160.4 489.1,162.2 491.4,163.9 493.6,165.6 495.9,167.2 498.2,168.8 500.4,170.4 502.7,171.9 504.9,173.4 507.2,174.8 509.5,176.2 511.7,177.6 514.0,178.9 516.2,180.2 518.5,181.5 520.8,182.7 523.0,183.9 525.3,185.1 527.5,186.2 529.8,187.3 532.1,188.4 534.3,189.4 536.6,190.4 538.8,191.3 541.1,192.2" fill="none" stroke="#EDB120" stroke-width="1" stroke-linejoin="round"/><circle cx="337.70" cy="116.00" r="1.36" fill="#EDB120"/><circle cx="360.30" cy="65.06" r="1.36" fill="#EDB120"/><circle cx="382.90" cy="71.49" r="1.36" fill="#EDB120"/><circle cx="405.50" cy="95.00" r="1.36" fill="#EDB120"/><circle cx="428.10" cy="99.36" r="1.36" fill="#EDB120"/><circle cx="450.70" cy="120.93" r="1.36" fill="#EDB120"/><circle cx="473.30" cy="147.94" r="1.36" fill="#EDB120"/><circle cx="495.90" cy="167.22" r="1.36" fill="#EDB120"/><circle cx="518.50" cy="181.51" r="1.36" fill="#EDB120"/><circle cx="541.10" cy="192.23" r="1.36" fill="#EDB120"/><polyline points="337.7,126.5 340.0,116.8 342.2,108.0 344.5,100.1 346.7,93.0 349.0,86.8 351.3,81.3 353.5,76.7 355.8,72.8 358.0,69.6 360.3,67.2 362.6,65.5 364.8,64.4 367.1,64.0 369.3,64.2 371.6,64.9 373.9,66.2 376.1,67.8 378.4,69.6 380.6,71.7 382.9,73.9 385.2,76.0 387.4,78.1 389.7,80.2 391.9,82.2 394.2,84.1 396.5,86.0 398.7,87.7 401.0,89.4 403.2,90.9 405.5,92.2 407.8,93.4 410.0,94.5 412.3,95.4 414.5,96.3 416.8,97.2 419.1,98.2 421.3,99.2 423.6,100.3 425.8,101.5 428.1,102.9 430.4,104.6 432.6,106.4 434.9,108.3 437.1,110.4 439.4,112.7 441.7,115.0 443.9,117.3 446.2,119.7 448.4,122.0 450.7,124.4 453.0,126.6 455.2,128.9 457.5,131.1 459.7,133.2 462.0,135.4 464.3,137.5 466.5,139.6 468.8,141.8 471.0,143.9 473.3,146.1 475.6,148.4 477.8,150.7 480.1,152.9 482.3,155.2 484.6,157.5 486.9,159.7 489.1,161.9 491.4,164.0 493.6,166.0 495.9,167.9 498.2,169.8 500.4,171.5 502.7,173.1 504.9,174.6 507.2,176.1 509.5,177.4 511.7,178.7 514.0,179.9 516.2,181.1 518.5,182.2 520.8,183.3 523.0,184.3 525.3,185.4 527.5,186.4 529.8,187.3 532.1,188.3 534.3,189.3 536.6,190.2 538.8,191.2 541.1,192.2" fill="none" stroke="#7E2F8E" stroke-width="1" stroke-linejoin="round"/><path d="M337.70 124.29 L340.00 128.20 L335.40 128.20Z" fill="#7E2F8E"/><path d="M360.30 65.00 L362.60 68.91 L358.00 68.91Z" fill="#7E2F8E"/><path d="M382.90 71.64 L385.19 75.55 L380.60 75.55Z" fill="#7E2F8E"/><path d="M405.50 90.00 L407.80 93.91 L403.20 93.91Z" fill="#7E2F8E"/><path d="M428.10 100.72 L430.40 104.63 L425.81 104.63Z" fill="#7E2F8E"/><path d="M450.70 122.15 L453.00 126.06 L448.40 126.06Z" fill="#7E2F8E"/><path d="M473.30 143.94 L475.60 147.85 L471.00 147.85Z" fill="#7E2F8E"/><path d="M495.90 165.73 L498.19 169.64 L493.60 169.64Z" fill="#7E2F8E"/><path d="M518.50 180.02 L520.79 183.93 L516.21 183.93Z" fill="#7E2F8E"/><path d="M541.10 190.02 L543.39 193.93 L538.81 193.93Z" fill="#7E2F8E"/><polyline points="337.7,123.1 340.0,112.4 342.2,102.9 344.5,94.5 346.7,87.1 349.0,80.8 351.3,75.4 353.5,71.0 355.8,67.3 358.0,64.5 360.3,62.4 362.6,60.9 364.8,60.0 367.1,59.7 369.3,59.8 371.6,60.3 373.9,61.2 376.1,62.2 378.4,63.4 380.6,64.7 382.9,66.0 385.2,67.2 387.4,68.3 389.7,69.4 391.9,70.4 394.2,71.3 396.5,72.2 398.7,73.1 401.0,73.9 403.2,74.7 405.5,75.6 407.8,76.4 410.0,77.3 412.3,78.3 414.5,79.3 416.8,80.5 419.1,81.9 421.3,83.5 423.6,85.4 425.8,87.5 428.1,89.9 430.4,92.7 432.6,95.8 434.9,99.1 437.1,102.6 439.4,106.3 441.7,110.1 443.9,114.0 446.2,117.9 448.4,121.8 450.7,125.6 453.0,129.4 455.2,132.9 457.5,136.4 459.7,139.8 462.0,143.0 464.3,146.1 466.5,149.1 468.8,151.9 471.0,154.6 473.3,157.2 475.6,159.6 477.8,161.9 480.1,164.0 482.3,166.1 484.6,168.0 486.9,169.8 489.1,171.6 491.4,173.2 493.6,174.8 495.9,176.2 498.2,177.6 500.4,179.0 502.7,180.2 504.9,181.4 507.2,182.5 509.5,183.6 511.7,184.6 514.0,185.6 516.2,186.5 518.5,187.3 520.8,188.1 523.0,188.8 525.3,189.5 527.5,190.1 529.8,190.7 532.1,191.2 534.3,191.7 536.6,192.2 538.8,192.6 541.1,192.9" fill="none" stroke="#77AC30" stroke-width="1" stroke-linejoin="round"/><circle cx="337.70" cy="123.15" r="1.53" fill="#77AC30"/><circle cx="360.30" cy="62.35" r="1.53" fill="#77AC30"/><circle cx="382.90" cy="65.99" r="1.53" fill="#77AC30"/><circle cx="405.50" cy="75.57" r="1.53" fill="#77AC30"/><circle cx="428.10" cy="89.93" r="1.53" fill="#77AC30"/><circle cx="450.70" cy="125.65" r="1.53" fill="#77AC30"/><circle cx="473.30" cy="157.15" r="1.53" fill="#77AC30"/><circle cx="495.90" cy="176.23" r="1.53" fill="#77AC30"/><circle cx="518.50" cy="187.30" r="1.53" fill="#77AC30"/><circle cx="541.10" cy="192.94" r="1.53" fill="#77AC30"/><polyline points="337.7,113.6 340.0,104.7 342.2,96.9 344.5,90.1 346.7,84.2 349.0,79.3 351.3,75.1 353.5,71.7 355.8,68.9 358.0,66.7 360.3,65.0 362.6,63.7 364.8,62.8 367.1,62.2 369.3,61.8 371.6,61.6 373.9,61.6 376.1,61.8 378.4,62.3 380.6,63.2 382.9,64.4 385.2,66.1 387.4,68.2 389.7,70.5 391.9,73.0 394.2,75.6 396.5,78.1 398.7,80.6 401.0,82.9 403.2,85.0 405.5,86.6 407.8,87.9 410.0,88.8 412.3,89.4 414.5,89.9 416.8,90.3 419.1,90.7 421.3,91.4 423.6,92.2 425.8,93.4 428.1,95.1 430.4,97.2 432.6,99.9 434.9,102.9 437.1,106.2 439.4,109.7 441.7,113.4 443.9,117.1 446.2,120.8 448.4,124.4 450.7,127.7 453.0,130.8 455.2,133.6 457.5,136.3 459.7,138.7 462.0,140.9 464.3,143.0 466.5,145.0 468.8,146.9 471.0,148.8 473.3,150.6 475.6,152.4 477.8,154.2 480.1,156.1 482.3,157.9 484.6,159.7 486.9,161.5 489.1,163.3 491.4,165.1 493.6,166.9 495.9,168.7 498.2,170.4 500.4,172.1 502.7,173.8 504.9,175.5 507.2,177.1 509.5,178.6 511.7,180.2 514.0,181.6 516.2,183.0 518.5,184.4 520.8,185.6 523.0,186.8 525.3,187.9 527.5,189.0 529.8,189.9 532.1,190.7 534.3,191.4 536.6,192.1 538.8,192.6 541.1,192.9" fill="none" stroke="#4DBEEE" stroke-width="1" stroke-linejoin="round"/><rect x="335.91" y="111.86" width="3.57" height="3.57" fill="#4DBEEE"/><rect x="358.51" y="63.21" width="3.57" height="3.57" fill="#4DBEEE"/><rect x="381.11" y="62.64" width="3.57" height="3.57" fill="#4DBEEE"/><rect x="403.71" y="84.85" width="3.57" height="3.57" fill="#4DBEEE"/><rect x="426.31" y="93.28" width="3.57" height="3.57" fill="#4DBEEE"/><rect x="448.91" y="125.93" width="3.57" height="3.57" fill="#4DBEEE"/><rect x="471.51" y="148.79" width="3.57" height="3.57" fill="#4DBEEE"/><rect x="494.11" y="166.87" width="3.57" height="3.57" fill="#4DBEEE"/><rect x="516.72" y="182.58" width="3.57" height="3.57" fill="#4DBEEE"/><rect x="539.32" y="191.16" width="3.57" height="3.57" fill="#4DBEEE"/><polyline points="337.7,120.7 340.0,112.1 342.2,104.3 344.5,97.4 346.7,91.2 349.0,85.7 351.3,80.9 353.5,76.8 355.8,73.3 358.0,70.4 360.3,68.1 362.6,66.3 364.8,65.0 367.1,64.2 369.3,63.9 371.6,63.9 373.9,64.4 376.1,65.2 378.4,66.3 380.6,67.8 382.9,69.5 385.2,71.5 387.4,73.6 389.7,75.9 391.9,78.3 394.2,80.7 396.5,83.1 398.7,85.4 401.0,87.6 403.2,89.6 405.5,91.4 407.8,92.8 410.0,94.0 412.3,95.1 414.5,96.0 416.8,96.8 419.1,97.6 421.3,98.4 423.6,99.3 425.8,100.3 428.1,101.5 430.4,102.9 432.6,104.6 434.9,106.4 437.1,108.4 439.4,110.6 441.7,112.8 443.9,115.2 446.2,117.6 448.4,120.0 450.7,122.5 453.0,125.0 455.2,127.4 457.5,129.8 459.7,132.2 462.0,134.6 464.3,137.0 466.5,139.3 468.8,141.6 471.0,143.9 473.3,146.1 475.6,148.4 477.8,150.5 480.1,152.7 482.3,154.8 484.6,156.8 486.9,158.8 489.1,160.7 491.4,162.6 493.6,164.5 495.9,166.2 498.2,167.9 500.4,169.6 502.7,171.2 504.9,172.7 507.2,174.2 509.5,175.6 511.7,176.9 514.0,178.3 516.2,179.6 518.5,180.8 520.8,182.0 523.0,183.2 525.3,184.3 527.5,185.4 529.8,186.5 532.1,187.5 534.3,188.6 536.6,189.6 538.8,190.5 541.1,191.5" fill="none" stroke="#A2142F" stroke-width="1" stroke-linejoin="round"/><path d="M337.70 118.17 L339.57 120.72 L337.70 123.27 L335.83 120.72Z" fill="#A2142F"/><path d="M360.30 65.52 L362.17 68.07 L360.30 70.62 L358.43 68.07Z" fill="#A2142F"/><path d="M382.90 66.94 L384.77 69.49 L382.90 72.04 L381.03 69.49Z" fill="#A2142F"/><path d="M405.50 88.80 L407.37 91.35 L405.50 93.90 L403.63 91.35Z" fill="#A2142F"/><path d="M428.10 98.95 L429.97 101.50 L428.10 104.05 L426.23 101.50Z" fill="#A2142F"/><path d="M450.70 119.95 L452.57 122.50 L450.70 125.05 L448.83 122.50Z" fill="#A2142F"/><path d="M473.30 143.60 L475.17 146.15 L473.30 148.70 L471.43 146.15Z" fill="#A2142F"/><path d="M495.90 163.67 L497.77 166.22 L495.90 168.77 L494.03 166.22Z" fill="#A2142F"/><path d="M518.50 178.25 L520.37 180.80 L518.50 183.35 L516.63 180.80Z" fill="#A2142F"/><path d="M541.10 188.96 L542.97 191.51 L541.10 194.06 L539.23 191.51Z" fill="#A2142F"/><polyline points="337.7,130.1 340.0,120.6 342.2,111.6 344.5,103.1 346.7,95.0 349.0,87.5 351.3,80.5 353.5,74.1 355.8,68.3 358.0,63.1 360.3,58.6 362.6,54.9 364.8,51.8 367.1,49.6 369.3,48.1 371.6,47.4 373.9,47.7 376.1,48.6 378.4,50.1 380.6,51.9 382.9,53.9 385.2,55.9 387.4,57.9 389.7,59.9 391.9,61.9 394.2,64.0 396.5,66.1 398.7,68.3 401.0,70.6 403.2,73.0 405.5,75.6 407.8,78.3 410.0,81.1 412.3,84.1 414.5,87.1 416.8,90.1 419.1,93.2 421.3,96.2 423.6,99.1 425.8,102.0 428.1,104.7 430.4,107.3 432.6,109.8 434.9,112.1 437.1,114.5 439.4,116.8 441.7,119.1 443.9,121.5 446.2,123.9 448.4,126.5 450.7,129.3 453.0,132.2 455.2,135.3 457.5,138.4 459.7,141.6 462.0,144.7 464.3,147.7 466.5,150.5 468.8,153.0 471.0,155.3 473.3,157.2 475.6,158.6 477.8,159.7 480.1,160.5 482.3,161.1 484.6,161.5 486.9,161.9 489.1,162.2 491.4,162.6 493.6,163.1 495.9,163.8 498.2,164.7 500.4,165.9 502.7,167.3 504.9,168.9 507.2,170.6 509.5,172.4 511.7,174.2 514.0,176.2 516.2,178.1 518.5,180.1 520.8,182.0 523.0,183.8 525.3,185.5 527.5,187.1 529.8,188.6 532.1,189.8 534.3,190.8 536.6,191.6 538.8,192.1 541.1,192.2" fill="none" stroke="#1a1a1a" stroke-width="1" stroke-linejoin="round"/><path d="M336.51 128.89L338.89 131.27M336.51 131.27L338.89 128.89" stroke="#1a1a1a" stroke-width="1.2" fill="none"/><path d="M359.11 57.45L361.49 59.83M359.11 59.83L361.49 57.45" stroke="#1a1a1a" stroke-width="1.2" fill="none"/><path d="M381.71 52.73L384.09 55.11M381.71 55.11L384.09 52.73" stroke="#1a1a1a" stroke-width="1.2" fill="none"/><path d="M404.31 74.38L406.69 76.76M404.31 76.76L406.69 74.38" stroke="#1a1a1a" stroke-width="1.2" fill="none"/><path d="M426.91 103.52L429.29 105.90M426.91 105.90L429.29 103.52" stroke="#1a1a1a" stroke-width="1.2" fill="none"/><path d="M449.51 128.10L451.89 130.48M449.51 130.48L451.89 128.10" stroke="#1a1a1a" stroke-width="1.2" fill="none"/><path d="M472.11 155.96L474.49 158.34M472.11 158.34L474.49 155.96" stroke="#1a1a1a" stroke-width="1.2" fill="none"/><path d="M494.71 162.60L497.09 164.98M494.71 164.98L497.09 162.60" stroke="#1a1a1a" stroke-width="1.2" fill="none"/><path d="M517.31 178.89L519.69 181.27M517.31 181.27L519.69 178.89" stroke="#1a1a1a" stroke-width="1.2" fill="none"/><path d="M539.91 191.04L542.29 193.42M539.91 193.42L542.29 191.04" stroke="#1a1a1a" stroke-width="1.2" fill="none"/><polyline points="337.7,132.0 340.0,126.4 342.2,121.0 344.5,115.8 346.7,110.8 349.0,106.1 351.3,101.6 353.5,97.4 355.8,93.5 358.0,89.8 360.3,86.5 362.6,83.5 364.8,80.8 367.1,78.5 369.3,76.5 371.6,74.9 373.9,73.6 376.1,72.8 378.4,72.4 380.6,72.4 382.9,72.9 385.2,73.7 387.4,75.0 389.7,76.6 391.9,78.4 394.2,80.5 396.5,82.6 398.7,84.9 401.0,87.1 403.2,89.3 405.5,91.4 407.8,93.2 410.0,94.9 412.3,96.5 414.5,97.9 416.8,99.1 419.1,100.3 421.3,101.4 423.6,102.3 425.8,103.2 428.1,104.1 430.4,104.9 432.6,105.7 434.9,106.4 437.1,107.2 439.4,108.0 441.7,108.9 443.9,109.8 446.2,110.8 448.4,111.8 450.7,113.0 453.0,114.3 455.2,115.7 457.5,117.2 459.7,118.9 462.0,120.6 464.3,122.5 466.5,124.6 468.8,126.8 471.0,129.1 473.3,131.5 475.6,134.1 477.8,136.8 480.1,139.5 482.3,142.4 484.6,145.2 486.9,148.1 489.1,151.0 491.4,153.8 493.6,156.5 495.9,159.2 498.2,161.7 500.4,164.1 502.7,166.3 504.9,168.5 507.2,170.5 509.5,172.5 511.7,174.3 514.0,176.0 516.2,177.7 518.5,179.2 520.8,180.7 523.0,182.0 525.3,183.3 527.5,184.5 529.8,185.7 532.1,186.7 534.3,187.7 536.6,188.6 538.8,189.5 541.1,190.3" fill="none" stroke="#1f2fa8" stroke-width="1" stroke-linejoin="round"/><path d="M337.70 134.21 L340.00 130.30 L335.40 130.30Z" fill="#0b0b8c"/><path d="M360.30 88.71 L362.60 84.80 L358.00 84.80Z" fill="#0b0b8c"/><path d="M382.90 75.06 L385.19 71.15 L380.60 71.15Z" fill="#0b0b8c"/><path d="M405.50 93.56 L407.80 89.65 L403.20 89.65Z" fill="#0b0b8c"/><path d="M428.10 106.28 L430.40 102.37 L425.81 102.37Z" fill="#0b0b8c"/><path d="M450.70 115.21 L453.00 111.30 L448.40 111.30Z" fill="#0b0b8c"/><path d="M473.30 133.71 L475.60 129.80 L471.00 129.80Z" fill="#0b0b8c"/><path d="M495.90 161.36 L498.19 157.45 L493.60 157.45Z" fill="#0b0b8c"/><path d="M518.50 181.44 L520.79 177.53 L516.21 177.53Z" fill="#0b0b8c"/><path d="M541.10 192.51 L543.39 188.60 L538.81 188.60Z" fill="#0b0b8c"/></g>
<text x="337.70" y="212.20" font-size="14.0" text-anchor="middle" fill="#1c1c1c" >0</text>
<text x="360.30" y="212.20" font-size="14.0" text-anchor="middle" fill="#1c1c1c" >10</text>
<text x="382.90" y="212.20" font-size="14.0" text-anchor="middle" fill="#1c1c1c" >20</text>
<text x="405.50" y="212.20" font-size="14.0" text-anchor="middle" fill="#1c1c1c" >30</text>
<text x="428.10" y="212.20" font-size="14.0" text-anchor="middle" fill="#1c1c1c" >40</text>
<text x="450.70" y="212.20" font-size="14.0" text-anchor="middle" fill="#1c1c1c" >50</text>
<text x="473.30" y="212.20" font-size="14.0" text-anchor="middle" fill="#1c1c1c" >60</text>
<text x="495.90" y="212.20" font-size="14.0" text-anchor="middle" fill="#1c1c1c" >70</text>
<text x="518.50" y="212.20" font-size="14.0" text-anchor="middle" fill="#1c1c1c" >80</text>
<text x="541.10" y="212.20" font-size="14.0" text-anchor="middle" fill="#1c1c1c" >90</text>
<text x="333.50" y="200.40" font-size="14.0" text-anchor="end" fill="#1c1c1c" >0</text>
<text x="333.50" y="164.68" font-size="14.0" text-anchor="end" fill="#1c1c1c"  textLength="29.9" lengthAdjust="spacing">0.005</text>
<text x="333.50" y="128.96" font-size="14.0" text-anchor="end" fill="#1c1c1c"  textLength="23.6" lengthAdjust="spacing">0.01</text>
<text x="333.50" y="93.24" font-size="14.0" text-anchor="end" fill="#1c1c1c"  textLength="29.9" lengthAdjust="spacing">0.015</text>
<text x="333.50" y="57.52" font-size="14.0" text-anchor="end" fill="#1c1c1c"  textLength="23.6" lengthAdjust="spacing">0.02</text>
<text x="333.50" y="21.80" font-size="14.0" text-anchor="end" fill="#1c1c1c"  textLength="29.9" lengthAdjust="spacing">0.025</text>
<text x="437.60" y="228.60" font-size="14.0" text-anchor="middle" fill="#1c1c1c"  textLength="148.9" lengthAdjust="spacing">Inclination angle (degree)</text>
<text x="0.00" y="0.00" font-size="14.0" text-anchor="middle" fill="#1c1c1c" transform="translate(299.4 107.6) rotate(-90)" textLength="112.3" lengthAdjust="spacing">Probability density</text>
<text x="423.00" y="256.80" font-size="14" text-anchor="middle" fill="#111"  textLength="17.7" lengthAdjust="spacing">(<tspan font-weight="bold">b</tspan>)</text>
<rect x="187.4" y="276.3" width="206.20" height="181.90" fill="#fff" stroke="#989898" stroke-width="0.9"/><path d="M196.60 458.2v-2.2M196.60 276.3v2.2M226.60 458.2v-2.2M226.60 276.3v2.2M252.85 458.2v-2.2M252.85 276.3v2.2M279.10 458.2v-2.2M279.10 276.3v2.2M305.35 458.2v-2.2M305.35 276.3v2.2M331.60 458.2v-2.2M331.60 276.3v2.2M357.85 458.2v-2.2M357.85 276.3v2.2M384.10 458.2v-2.2M384.10 276.3v2.2M187.4 458.20h2.2M393.6 458.20h-2.2M187.4 412.73h2.2M393.6 412.73h-2.2M187.4 367.25h2.2M393.6 367.25h-2.2M187.4 321.77h2.2M393.6 321.77h-2.2M187.4 276.30h2.2M393.6 276.30h-2.2" stroke="#989898" stroke-width="0.7" fill="none"/>
<polyline points="196.6,329.5 200.3,322.7 226.6,327.5 252.8,334.1 279.1,327.0 305.4,336.3 331.6,329.5 357.9,350.2 384.1,327.0" fill="none" stroke="#2a2aff" stroke-width="0.9"/>
<circle cx="196.60" cy="329.49" r="3.55" fill="#0000ff"/>
<circle cx="200.35" cy="322.70" r="3.55" fill="#0000ff"/>
<circle cx="226.60" cy="327.50" r="3.55" fill="#0000ff"/>
<circle cx="252.85" cy="334.11" r="3.55" fill="#0000ff"/>
<circle cx="279.10" cy="327.05" r="3.55" fill="#0000ff"/>
<circle cx="305.35" cy="336.29" r="3.55" fill="#0000ff"/>
<circle cx="331.60" cy="329.49" r="3.55" fill="#0000ff"/>
<circle cx="357.85" cy="350.24" r="3.55" fill="#0000ff"/>
<circle cx="384.10" cy="327.05" r="3.55" fill="#0000ff"/>
<polyline points="196.6,421.2 200.3,430.6 226.6,425.6 252.8,427.9 279.1,430.0 305.4,428.1 331.6,418.5 357.9,421.0 384.1,395.6" fill="none" stroke="#222" stroke-width="0.9"/>
<path d="M196.60 417.13L200.60 423.83L192.60 423.83Z" fill="#000"/>
<path d="M200.35 426.46L204.35 433.16L196.35 433.16Z" fill="#000"/>
<path d="M226.60 421.47L230.60 428.17L222.60 428.17Z" fill="#000"/>
<path d="M252.85 423.83L256.85 430.53L248.85 430.53Z" fill="#000"/>
<path d="M279.10 425.91L283.10 432.61L275.10 432.61Z" fill="#000"/>
<path d="M305.35 424.01L309.35 430.71L301.35 430.71Z" fill="#000"/>
<path d="M331.60 414.41L335.60 421.11L327.60 421.11Z" fill="#000"/>
<path d="M357.85 416.85L361.85 423.55L353.85 423.55Z" fill="#000"/>
<path d="M384.10 391.49L388.10 398.19L380.10 398.19Z" fill="#000"/>
<text x="196.80" y="475.10" font-size="14.0" text-anchor="middle" fill="#1c1c1c" >0</text>
<text x="226.80" y="475.10" font-size="14.0" text-anchor="middle" fill="#1c1c1c" >16</text>
<text x="253.05" y="475.10" font-size="14.0" text-anchor="middle" fill="#1c1c1c" >30</text>
<text x="279.30" y="475.10" font-size="14.0" text-anchor="middle" fill="#1c1c1c" >44</text>
<text x="305.55" y="475.10" font-size="14.0" text-anchor="middle" fill="#1c1c1c" >58</text>
<text x="331.80" y="475.10" font-size="14.0" text-anchor="middle" fill="#1c1c1c" >72</text>
<text x="358.05" y="475.10" font-size="14.0" text-anchor="middle" fill="#1c1c1c" >86</text>
<text x="384.30" y="475.10" font-size="14.0" text-anchor="middle" fill="#1c1c1c" >100</text>
<text x="182.60" y="462.50" font-size="14.0" text-anchor="end" fill="#1c1c1c" >25</text>
<text x="182.60" y="417.03" font-size="14.0" text-anchor="end" fill="#1c1c1c" >30</text>
<text x="182.60" y="371.55" font-size="14.0" text-anchor="end" fill="#1c1c1c" >35</text>
<text x="182.60" y="326.07" font-size="14.0" text-anchor="end" fill="#1c1c1c" >40</text>
<text x="182.60" y="280.60" font-size="14.0" text-anchor="end" fill="#1c1c1c" >45</text>
<text x="291.20" y="492.00" font-size="14.0" text-anchor="middle" fill="#1c1c1c"  textLength="104.6" lengthAdjust="spacing">Fiber curvature, <tspan font-style="italic" font-size="15.5">κ</tspan></text>
<text x="0.00" y="0.00" font-size="14.0" text-anchor="middle" fill="#1c1c1c" transform="translate(165.1 367.1) rotate(-90)" textLength="203.7" lengthAdjust="spacing">Average inclination angle (degree)</text>
<rect x="241.2" y="282.1" width="148.5" height="26.5" fill="#fff" stroke="#989898" stroke-width="0.8"/>
<path d="M242.8 289.0H262.7" stroke="#2a2aff" stroke-width="0.9"/><circle cx="252.7" cy="289.0" r="3.55" fill="#0000ff"/>
<path d="M242.8 301.5H262.7" stroke="#222" stroke-width="0.9"/><path d="M252.70 297.40L256.70 304.10L248.70 304.10Z" fill="#000"/>
<text x="264.60" y="292.90" font-size="10.8" text-anchor="start" fill="#1c1c1c"  textLength="123.0" lengthAdjust="spacing">Before 1st load-unload cycle</text>
<text x="264.60" y="305.60" font-size="10.8" text-anchor="start" fill="#1c1c1c"  textLength="116.6" lengthAdjust="spacing">After 1st load-unload cycle</text>
<text x="277.20" y="518.20" font-size="14" text-anchor="middle" fill="#111"  textLength="14.7" lengthAdjust="spacing">(<tspan font-weight="bold">c</tspan>)</text>
</g></svg>
</body></html>
